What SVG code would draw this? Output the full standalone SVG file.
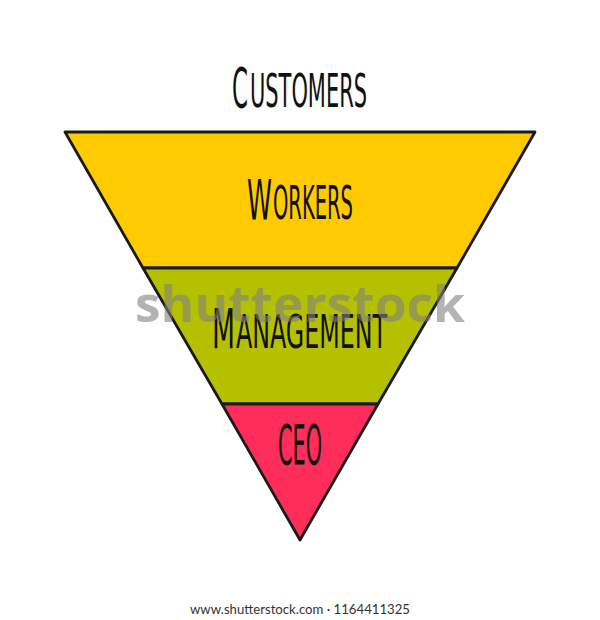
<svg xmlns="http://www.w3.org/2000/svg" width="600" height="620" viewBox="0 0 600 620">
<style>
.band{stroke:#1a1a1a;stroke-width:2.8;stroke-linejoin:round}
.lbl{font-family:"Liberation Sans Narrow","DejaVu Sans Condensed","Liberation Sans",sans-serif;fill:#111}
.big{font-size:56px}
.sm{font-size:46px}
</style>
<rect width="600" height="620" fill="#fff"/>
<g id="title">
<text class="lbl big" x="232" y="107" textLength="16" lengthAdjust="spacingAndGlyphs">C</text>
<text class="lbl sm" x="250" y="107" textLength="117" lengthAdjust="spacingAndGlyphs">USTOMERS</text>
</g>
<g id="workers">
<polygon class="band" points="65,132 535,132 457,268 143,268" fill="#FFCB00"/>
<text class="lbl big" x="247" y="219" textLength="25" lengthAdjust="spacingAndGlyphs">W</text>
<text class="lbl sm" x="273" y="219" textLength="80" lengthAdjust="spacingAndGlyphs">ORKERS</text>
</g>
<g id="management">
<polygon class="band" points="143,268 457,268 378,404 222,404" fill="#B5C100"/>
<text class="lbl big" x="212" y="348" textLength="23" lengthAdjust="spacingAndGlyphs">M</text>
<text class="lbl sm" x="236" y="348" textLength="151" lengthAdjust="spacingAndGlyphs">ANAGEMENT</text>
</g>
<g id="ceo">
<polygon class="band" points="222,404 378,404 300,540" fill="#FF2D5A"/>
<text class="lbl big" x="278" y="464" textLength="44" lengthAdjust="spacingAndGlyphs">CEO</text>
</g>
<g id="watermark">
<text x="300" y="322" font-family="'Open Sans','Liberation Sans',sans-serif" font-weight="bold" font-size="50" fill="#808080" fill-opacity="0.6" text-anchor="middle" textLength="330" lengthAdjust="spacingAndGlyphs">shutterstock</text>
</g>
<g id="footer">
<text x="300" y="614" font-family="Lato,'Liberation Sans',sans-serif" font-size="14" fill="#333" text-anchor="middle" textLength="220" lengthAdjust="spacingAndGlyphs">www.shutterstock.com · 1164411325</text>
</g>
</svg>
